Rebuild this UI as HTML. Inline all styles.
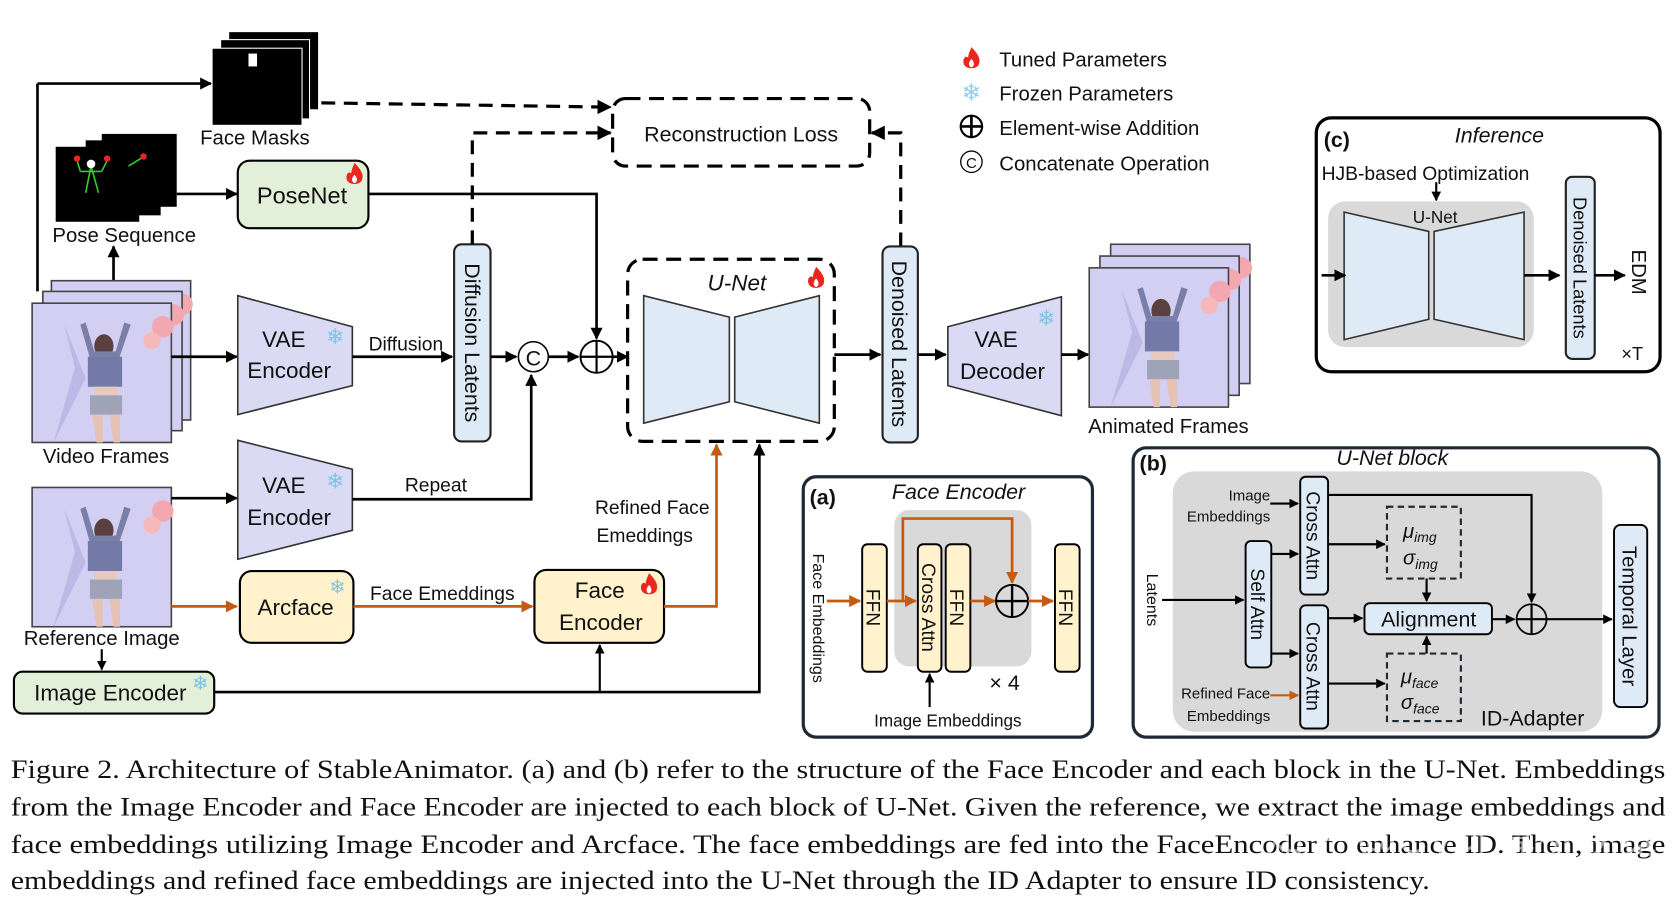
<!DOCTYPE html>
<html><head><meta charset="utf-8"><style>
html,body{margin:0;padding:0;background:#fff;}
svg{display:block;}
text{font-family:"Liberation Sans",sans-serif;fill:#111;}
.cap{font-family:"Liberation Serif",serif;font-size:24.5px;}
</style></head><body>
<svg width="1674" height="901" viewBox="0 0 1563 841" preserveAspectRatio="none" xmlns="http://www.w3.org/2000/svg">
<defs>
<marker id="a" viewBox="0 0 10 10" refX="9" refY="5" markerWidth="4.5" markerHeight="4.5" orient="auto"><path d="M0,0L10,5L0,10z" fill="#000"/></marker>
<marker id="o" viewBox="0 0 10 10" refX="9" refY="5" markerWidth="4.5" markerHeight="4.5" orient="auto"><path d="M0,0L10,5L0,10z" fill="#c55a11"/></marker>
<g id="photo">
<rect x="0" y="0" width="130" height="130" fill="#d3cff3" stroke="#444" stroke-width="1.5"/>
<path d="M20,130 L40,60 L30,20 L50,70 Z" fill="#bdb8e6"/>
<circle cx="122" cy="22" r="10" fill="#f3a7b0"/><circle cx="112" cy="35" r="8" fill="#f6b8b8"/>
<ellipse cx="67" cy="40" rx="9" ry="11" fill="#5a4040"/>
<path d="M45,20 L55,55 L80,55 L92,20 L86,18 L78,45 L58,45 L50,18Z" fill="#7a7fa8"/>
<rect x="52" y="50" width="32" height="28" fill="#737aa8"/>
<rect x="58" y="78" width="22" height="8" fill="#e8c9bd"/>
<rect x="54" y="86" width="30" height="18" fill="#9ea3b8"/>
<path d="M56,104 L60,130 L66,130 L66,104Z M72,104 L76,130 L82,130 L82,104Z" fill="#e6c2b5"/>
</g>
<g id="flame"><path d="M0,-11 C6,-5 9,0 7,5 C5,10 -5,10 -7,5 C-9,0 -5,-4 -3,-1 C-3,-5 -1,-8 0,-11Z" fill="#e8281f"/><path d="M0,0 C3,3 3,7 0,8 C-3,7 -3,3 0,0Z" fill="#fff"/></g>
</defs>

<!-- Face masks -->
<line x1="35" y1="272" x2="35" y2="78" stroke="#000" stroke-width="2.5"/>
<line x1="35" y1="78" x2="197" y2="78" stroke="#000" stroke-width="2.5" marker-end="url(#a)"/>
<rect x="214" y="30" width="83" height="72" fill="#000"/>
<rect x="206" y="37" width="83" height="74" fill="#000" stroke="#fff" stroke-width="1"/>
<rect x="198" y="45" width="84" height="72" fill="#000" stroke="#fff" stroke-width="1"/>
<rect x="232" y="50" width="8" height="12" fill="#fff"/>
<text x="238" y="135" font-size="19" text-anchor="middle">Face Masks</text>
<path d="M300,96 L570,100" stroke="#000" stroke-width="3" stroke-dasharray="13,8" fill="none" marker-end="url(#a)"/>

<!-- Pose sequence -->
<rect x="95" y="125" width="70" height="68" fill="#000"/>
<rect x="80" y="131" width="70" height="70" fill="#000"/>
<rect x="52" y="137" width="78" height="70" fill="#000"/>
<path d="M85,155 L80,180 M85,155 L92,180 M75,160 L95,160 M75,160 L72,150 M95,160 L100,150" stroke="#3c3" stroke-width="1.5"/>
<circle cx="85" cy="153" r="4" fill="#fff"/><circle cx="72" cy="148" r="3" fill="#e22"/><circle cx="100" cy="148" r="3" fill="#e22"/>
<path d="M120,155 L133,147" stroke="#3c3" stroke-width="1.5"/><circle cx="134" cy="146" r="3" fill="#e22"/>
<text x="116" y="226" font-size="19" text-anchor="middle">Pose Sequence</text>
<line x1="106" y1="262" x2="106" y2="230" stroke="#000" stroke-width="2.5" marker-end="url(#a)"/>
<line x1="165" y1="181" x2="221" y2="181" stroke="#000" stroke-width="2.5" marker-end="url(#a)"/>
<rect x="222" y="150" width="122" height="63" rx="11" fill="#e2efd9" stroke="#000" stroke-width="2"/>
<text x="282" y="190" font-size="22" text-anchor="middle">PoseNet</text>
<use href="#flame" x="331" y="163"/>
<polyline points="344,181 557,181 557,316" fill="none" stroke="#000" stroke-width="2.5" marker-end="url(#a)"/>

<!-- Video frames -->
<use href="#photo" x="48" y="262"/>
<use href="#photo" x="40" y="272"/>
<use href="#photo" x="30" y="283"/>
<text x="99" y="432" font-size="19" text-anchor="middle">Video Frames</text>
<line x1="160" y1="333" x2="221" y2="333" stroke="#000" stroke-width="2.5" marker-end="url(#a)"/>
<polygon points="222,276 329,305 329,360 222,387" fill="#dadaf4" stroke="#333" stroke-width="1.5"/>
<text x="265" y="324" font-size="21" text-anchor="middle">VAE</text>
<text x="270" y="353" font-size="21" text-anchor="middle">Encoder</text>
<text x="313" y="321" font-size="20" fill="#7ec3e6" text-anchor="middle" style="fill:#7ec3e6">❄</text>
<line x1="329" y1="333" x2="422" y2="333" stroke="#000" stroke-width="2.5" marker-end="url(#a)"/>
<text x="379" y="327" font-size="18" text-anchor="middle">Diffusion</text>
<rect x="424" y="228" width="34" height="184" rx="7" fill="#deebf7" stroke="#222" stroke-width="2"/>
<text transform="translate(434,320) rotate(90)" font-size="20" text-anchor="middle">Diffusion Latents</text>
<polyline points="441,228 441,124 570,124" fill="none" stroke="#000" stroke-width="3" stroke-dasharray="13,8" marker-end="url(#a)"/>
<line x1="458" y1="333" x2="482" y2="333" stroke="#000" stroke-width="2.5" marker-end="url(#a)"/>
<circle cx="498" cy="333" r="14" fill="#fff" stroke="#000" stroke-width="1.5"/>
<text x="498" y="341" font-size="20" text-anchor="middle">C</text>
<line x1="512" y1="333" x2="540" y2="333" stroke="#000" stroke-width="2.5" marker-end="url(#a)"/>
<circle cx="557" cy="333" r="15" fill="#fff" stroke="#000" stroke-width="1.8"/>
<path d="M542,333 H572 M557,318 V348" stroke="#000" stroke-width="2"/>
<line x1="572" y1="333" x2="586" y2="333" stroke="#000" stroke-width="2.5" marker-end="url(#a)"/>

<!-- Reconstruction loss -->
<rect x="572" y="92" width="240" height="63" rx="12" fill="#fff" stroke="#000" stroke-width="3" stroke-dasharray="14,8"/>
<text x="692" y="132" font-size="20" text-anchor="middle">Reconstruction Loss</text>
<polyline points="841,230 841,124 814,124" fill="none" stroke="#000" stroke-width="3" stroke-dasharray="13,8" marker-end="url(#a)"/>

<!-- U-Net -->
<rect x="586" y="242" width="193" height="170" rx="14" fill="#fff" stroke="#000" stroke-width="3" stroke-dasharray="14,8"/>
<text x="688" y="271" font-size="21" font-style="italic" text-anchor="middle">U-Net</text>
<use href="#flame" x="762" y="260"/>
<polygon points="601,276 681,296 681,375 601,395" fill="#deebf7" stroke="#333" stroke-width="1.5"/>
<polygon points="686,296 765,276 765,395 686,375" fill="#deebf7" stroke="#333" stroke-width="1.5"/>
<line x1="779" y1="331" x2="822" y2="331" stroke="#000" stroke-width="2.5" marker-end="url(#a)"/>
<rect x="824" y="230" width="33" height="183" rx="7" fill="#deebf7" stroke="#222" stroke-width="2"/>
<text transform="translate(833,321) rotate(90)" font-size="20" text-anchor="middle">Denoised Latents</text>
<line x1="857" y1="331" x2="883" y2="331" stroke="#000" stroke-width="2.5" marker-end="url(#a)"/>
<polygon points="885,305 991,277 991,388 885,360" fill="#dadaf4" stroke="#333" stroke-width="1.5"/>
<text x="930" y="324" font-size="21" text-anchor="middle">VAE</text>
<text x="936" y="354" font-size="21" text-anchor="middle">Decoder</text>
<text x="977" y="304" font-size="20" text-anchor="middle" style="fill:#7ec3e6">❄</text>
<line x1="991" y1="331" x2="1016" y2="331" stroke="#000" stroke-width="2.5" marker-end="url(#a)"/>
<use href="#photo" x="1037" y="228"/>
<use href="#photo" x="1027" y="239"/>
<use href="#photo" x="1017" y="250"/>
<text x="1091" y="404" font-size="19" text-anchor="middle">Animated Frames</text>

<!-- Legend -->
<use href="#flame" x="907" y="55"/>
<text x="933" y="62" font-size="19">Tuned Parameters</text>
<text x="907" y="94" font-size="22" text-anchor="middle" style="fill:#8fd0ee">❄</text>
<text x="933" y="94" font-size="19">Frozen Parameters</text>
<circle cx="907" cy="118" r="10" fill="none" stroke="#000" stroke-width="2"/>
<path d="M897,118 H917 M907,108 V128" stroke="#000" stroke-width="2.5"/>
<text x="933" y="126" font-size="19">Element-wise Addition</text>
<circle cx="907" cy="151" r="10" fill="none" stroke="#000" stroke-width="1.2"/>
<text x="907" y="157" font-size="14" text-anchor="middle">C</text>
<text x="933" y="159" font-size="19">Concatenate Operation</text>

<!-- (c) -->
<rect x="1229" y="110" width="321" height="237" rx="14" fill="#fff" stroke="#000" stroke-width="3"/>
<text x="1236" y="137" font-size="20" font-weight="bold">(c)</text>
<text x="1400" y="133" font-size="20" font-style="italic" text-anchor="middle">Inference</text>
<text x="1234" y="168" font-size="18">HJB-based Optimization</text>
<line x1="1341" y1="170" x2="1341" y2="187" stroke="#000" stroke-width="2" marker-end="url(#a)"/>
<rect x="1240" y="188" width="192" height="136" rx="16" fill="#d9d9d9"/>
<text x="1340" y="208" font-size="16" text-anchor="middle">U-Net</text>
<polygon points="1255,198 1334,216 1334,298 1255,317" fill="#deebf7" stroke="#333" stroke-width="1.5"/>
<polygon points="1339,216 1423,198 1423,317 1339,298" fill="#deebf7" stroke="#333" stroke-width="1.5"/>
<line x1="1234" y1="257" x2="1256" y2="257" stroke="#000" stroke-width="2.5" marker-end="url(#a)"/>
<line x1="1423" y1="257" x2="1456" y2="257" stroke="#000" stroke-width="2.5" marker-end="url(#a)"/>
<rect x="1462" y="165" width="27" height="170" rx="6" fill="#deebf7" stroke="#222" stroke-width="2"/>
<text transform="translate(1469,250) rotate(90)" font-size="17" text-anchor="middle">Denoised Latents</text>
<line x1="1489" y1="257" x2="1517" y2="257" stroke="#000" stroke-width="2.5" marker-end="url(#a)"/>
<text transform="translate(1524,254) rotate(90)" font-size="19" text-anchor="middle">EDM</text>
<text x="1524" y="336" font-size="17" text-anchor="middle">×T</text>

<!-- Bottom-left -->
<use href="#photo" x="30" y="455"/>
<text x="95" y="602" font-size="19" text-anchor="middle">Reference Image</text>
<line x1="160" y1="465" x2="221" y2="465" stroke="#000" stroke-width="2.5" marker-end="url(#a)"/>
<polygon points="222,411 329,438 329,495 222,522" fill="#dadaf4" stroke="#333" stroke-width="1.5"/>
<text x="265" y="460" font-size="21" text-anchor="middle">VAE</text>
<text x="270" y="490" font-size="21" text-anchor="middle">Encoder</text>
<text x="313" y="456" font-size="20" text-anchor="middle" style="fill:#7ec3e6">❄</text>
<polyline points="329,466 496,466 496,350" fill="none" stroke="#000" stroke-width="2.5" marker-end="url(#a)"/>
<text x="407" y="459" font-size="18" text-anchor="middle">Repeat</text>
<line x1="160" y1="566" x2="221" y2="566" stroke="#c55a11" stroke-width="2.5" marker-end="url(#o)"/>
<rect x="224" y="533" width="106" height="67" rx="11" fill="#fff2cc" stroke="#000" stroke-width="2"/>
<text x="276" y="574" font-size="21" text-anchor="middle">Arcface</text>
<text x="315" y="554" font-size="18" text-anchor="middle" style="fill:#7ec3e6">❄</text>
<line x1="330" y1="566" x2="497" y2="566" stroke="#c55a11" stroke-width="2.5" marker-end="url(#o)"/>
<text x="413" y="560" font-size="18" text-anchor="middle">Face Emeddings</text>
<rect x="499" y="532" width="121" height="68" rx="11" fill="#fff2cc" stroke="#000" stroke-width="2"/>
<text x="560" y="558" font-size="21" text-anchor="middle">Face</text>
<text x="561" y="588" font-size="21" text-anchor="middle">Encoder</text>
<use href="#flame" x="606" y="546"/>
<polyline points="620,566 669,566 669,415" fill="none" stroke="#c55a11" stroke-width="2.5" marker-end="url(#o)"/>
<text x="609" y="480" font-size="18" text-anchor="middle">Refined Face</text>
<text x="602" y="506" font-size="18" text-anchor="middle">Emeddings</text>
<line x1="95" y1="606" x2="95" y2="625" stroke="#000" stroke-width="2" marker-end="url(#a)"/>
<rect x="13" y="627" width="187" height="39" rx="8" fill="#e2efd9" stroke="#000" stroke-width="2"/>
<text x="103" y="654" font-size="21" text-anchor="middle">Image Encoder</text>
<text x="187" y="644" font-size="18" text-anchor="middle" style="fill:#7ec3e6">❄</text>
<polyline points="200,646 709,646 709,415" fill="none" stroke="#000" stroke-width="2.5" marker-end="url(#a)"/>
<line x1="560" y1="646" x2="560" y2="602" stroke="#000" stroke-width="2" marker-end="url(#a)"/>

<!-- (a) -->
<rect x="750" y="445" width="270" height="243" rx="12" fill="#fff" stroke="#1f2a36" stroke-width="3"/>
<text x="756" y="471" font-size="20" font-weight="bold">(a)</text>
<text x="895" y="466" font-size="20" font-style="italic" text-anchor="middle">Face Encoder</text>
<text transform="translate(759,577) rotate(90)" font-size="15" text-anchor="middle">Face Embeddings</text>
<rect x="835" y="476" width="128" height="146" rx="14" fill="#d9d9d9"/>
<line x1="772" y1="561" x2="803" y2="561" stroke="#c55a11" stroke-width="2.5" marker-end="url(#o)"/>
<rect x="805" y="508" width="23" height="119" rx="5" fill="#fff2cc" stroke="#000" stroke-width="1.8"/>
<rect x="857" y="508" width="22" height="119" rx="5" fill="#fff2cc" stroke="#000" stroke-width="1.8"/>
<rect x="883" y="508" width="23" height="119" rx="5" fill="#fff2cc" stroke="#000" stroke-width="1.8"/>
<rect x="985" y="508" width="23" height="119" rx="5" fill="#fff2cc" stroke="#000" stroke-width="1.8"/>
<text transform="translate(809,567) rotate(90)" font-size="18" text-anchor="middle">FFN</text>
<text transform="translate(861,567) rotate(90)" font-size="18" text-anchor="middle">Cross Attn</text>
<text transform="translate(887,567) rotate(90)" font-size="18" text-anchor="middle">FFN</text>
<text transform="translate(989,567) rotate(90)" font-size="18" text-anchor="middle">FFN</text>
<line x1="828" y1="561" x2="855" y2="561" stroke="#c55a11" stroke-width="2.5" marker-end="url(#o)"/>
<polyline points="843,561 843,484 945,484 945,544" fill="none" stroke="#c55a11" stroke-width="2.5" marker-end="url(#o)"/>
<line x1="906" y1="561" x2="929" y2="561" stroke="#c55a11" stroke-width="2.5" marker-end="url(#o)"/>
<circle cx="945" cy="561" r="15" fill="none" stroke="#000" stroke-width="1.8"/>
<path d="M930,561 H960 M945,546 V576" stroke="#000" stroke-width="2.2"/>
<line x1="960" y1="561" x2="983" y2="561" stroke="#c55a11" stroke-width="2.5" marker-end="url(#o)"/>
<text x="938" y="644" font-size="20" text-anchor="middle">× 4</text>
<line x1="868" y1="660" x2="868" y2="629" stroke="#000" stroke-width="2" marker-end="url(#a)"/>
<text x="885" y="678" font-size="16" text-anchor="middle">Image Embeddings</text>

<!-- (b) -->
<rect x="1058" y="418" width="491" height="270" rx="12" fill="#fff" stroke="#1f2a36" stroke-width="3"/>
<text x="1064" y="439" font-size="20" font-weight="bold">(b)</text>
<text x="1300" y="434" font-size="20" font-style="italic" text-anchor="middle">U-Net block</text>
<rect x="1095" y="440" width="401" height="243" rx="20" fill="#d9d9d9"/>
<text x="1186" y="467" font-size="14" text-anchor="end">Image</text>
<text x="1186" y="487" font-size="14" text-anchor="end">Embeddings</text>
<line x1="1186" y1="470" x2="1212" y2="470" stroke="#000" stroke-width="2" marker-end="url(#a)"/>
<text transform="translate(1071,560) rotate(90)" font-size="15" text-anchor="middle">Latents</text>
<line x1="1085" y1="560" x2="1161" y2="560" stroke="#000" stroke-width="2" marker-end="url(#a)"/>
<rect x="1163" y="505" width="24" height="118" rx="5" fill="#deebf7" stroke="#000" stroke-width="1.8"/>
<text transform="translate(1168,564) rotate(90)" font-size="18" text-anchor="middle">Self Attn</text>
<rect x="1214" y="445" width="26" height="110" rx="5" fill="#deebf7" stroke="#000" stroke-width="1.8"/>
<text transform="translate(1220,500) rotate(90)" font-size="18" text-anchor="middle">Cross Attn</text>
<rect x="1214" y="565" width="26" height="115" rx="5" fill="#deebf7" stroke="#000" stroke-width="1.8"/>
<text transform="translate(1220,622) rotate(90)" font-size="18" text-anchor="middle">Cross Attn</text>
<line x1="1187" y1="517" x2="1212" y2="517" stroke="#000" stroke-width="2" marker-end="url(#a)"/>
<line x1="1187" y1="610" x2="1212" y2="610" stroke="#000" stroke-width="2" marker-end="url(#a)"/>
<polyline points="1240,462 1430,462 1430,562" fill="none" stroke="#000" stroke-width="2" marker-end="url(#a)"/>
<line x1="1240" y1="508" x2="1293" y2="508" stroke="#000" stroke-width="2" marker-end="url(#a)"/>
<line x1="1240" y1="638" x2="1293" y2="638" stroke="#000" stroke-width="2" marker-end="url(#a)"/>
<line x1="1240" y1="577" x2="1272" y2="577" stroke="#000" stroke-width="2" marker-end="url(#a)"/>
<rect x="1295" y="473" width="69" height="67" fill="none" stroke="#1f2a36" stroke-width="2" stroke-dasharray="6,4"/>
<text x="1310" y="502" font-size="19" font-style="italic">μ<tspan font-size="13" dy="4">img</tspan></text>
<text x="1310" y="527" font-size="19" font-style="italic">σ<tspan font-size="13" dy="4">img</tspan></text>
<rect x="1295" y="610" width="69" height="63" fill="none" stroke="#1f2a36" stroke-width="2" stroke-dasharray="6,4"/>
<text x="1308" y="638" font-size="19" font-style="italic">μ<tspan font-size="13" dy="4">face</tspan></text>
<text x="1308" y="662" font-size="19" font-style="italic">σ<tspan font-size="13" dy="4">face</tspan></text>
<line x1="1332" y1="540" x2="1332" y2="561" stroke="#000" stroke-width="2" marker-end="url(#a)"/>
<line x1="1332" y1="610" x2="1332" y2="594" stroke="#000" stroke-width="2" marker-end="url(#a)"/>
<rect x="1274" y="563" width="119" height="29" rx="5" fill="#deebf7" stroke="#000" stroke-width="1.8"/>
<text x="1334" y="585" font-size="20" text-anchor="middle">Alignment</text>
<line x1="1393" y1="578" x2="1414" y2="578" stroke="#000" stroke-width="2" marker-end="url(#a)"/>
<circle cx="1430" cy="578" r="14" fill="none" stroke="#000" stroke-width="1.6"/>
<path d="M1416,578 H1444 M1430,564 V592" stroke="#000" stroke-width="2"/>
<line x1="1444" y1="578" x2="1505" y2="578" stroke="#000" stroke-width="2" marker-end="url(#a)"/>
<rect x="1507" y="490" width="31" height="170" rx="6" fill="#deebf7" stroke="#000" stroke-width="1.8"/>
<text transform="translate(1515,575) rotate(90)" font-size="19" text-anchor="middle">Temporal Layer</text>
<text x="1431" y="677" font-size="20" text-anchor="middle">ID-Adapter</text>
<text x="1186" y="652" font-size="14" text-anchor="end">Refined Face</text>
<text x="1186" y="673" font-size="14" text-anchor="end">Embeddings</text>
<line x1="1186" y1="649" x2="1212" y2="649" stroke="#c55a11" stroke-width="2" marker-end="url(#o)"/>

<!-- Caption -->
<text class="cap" x="10" y="726" textLength="1545" lengthAdjust="spacingAndGlyphs">Figure 2. Architecture of StableAnimator. (a) and (b) refer to the structure of the Face Encoder and each block in the U-Net. Embeddings</text>
<text class="cap" x="10" y="761" textLength="1545" lengthAdjust="spacingAndGlyphs">from the Image Encoder and Face Encoder are injected to each block of U-Net. Given the reference, we extract the image embeddings and</text>
<text class="cap" x="10" y="796" textLength="1545" lengthAdjust="spacingAndGlyphs">face embeddings utilizing Image Encoder and Arcface. The face embeddings are fed into the FaceEncoder to enhance ID. Then, image</text>
<text class="cap" x="10" y="830" textLength="1325" lengthAdjust="spacingAndGlyphs">embeddings and refined face embeddings are injected into the U-Net through the ID Adapter to ensure ID consistency.</text>
<text x="1180" y="796" font-size="38" style="fill:#ffffff;fill-opacity:0.55;font-family:'Liberation Sans','Noto Sans CJK SC',sans-serif">知乎 @CV计算机视觉</text>
</svg>
</body></html>
